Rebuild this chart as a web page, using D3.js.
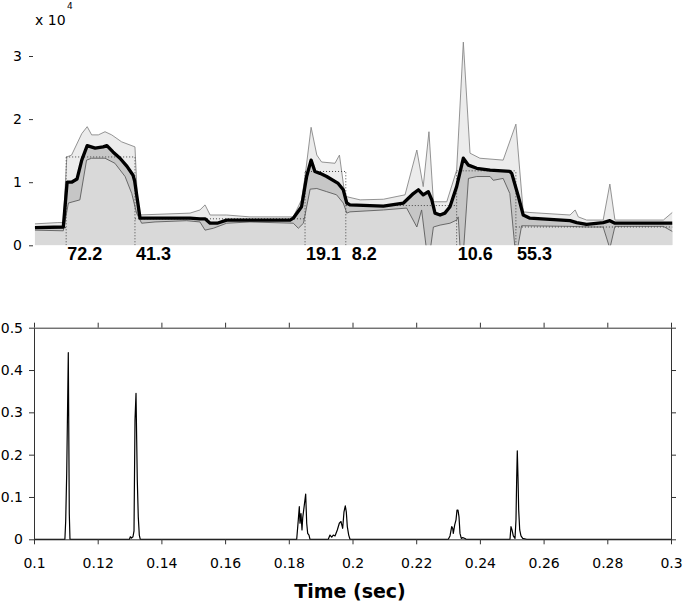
<!DOCTYPE html>
<html><head><meta charset="utf-8">
<script src="https://cdn.jsdelivr.net/npm/d3@7"></script>
<style>body{margin:0;background:#fff} svg{display:block}</style>
</head><body>
<svg id="c" width="683" height="605"></svg>
<script>
// ---- top panel data (values in units of 10^4) ----
const meanPts = [[0.1003,0.28],[0.1092,0.29],[0.1104,1.00],[0.1118,1.00],[0.1135,1.05],[0.1150,1.35],[0.1167,1.58],[0.1192,1.54],[0.1217,1.56],[0.1229,1.58],[0.1248,1.48],[0.1270,1.38],[0.1292,1.25],[0.1311,1.11],[0.1316,1.02],[0.1333,0.43],[0.1490,0.43],[0.1521,0.42],[0.1537,0.42],[0.1553,0.35],[0.1575,0.35],[0.1605,0.40],[0.1804,0.40],[0.1814,0.43],[0.1840,0.61],[0.1856,1.09],[0.1870,1.35],[0.1882,1.17],[0.1898,1.14],[0.1919,1.09],[0.1955,0.98],[0.1971,0.88],[0.1982,0.67],[0.1992,0.64],[0.2097,0.62],[0.2160,0.67],[0.2191,0.82],[0.2207,0.88],[0.2222,0.80],[0.2238,0.85],[0.2249,0.72],[0.2259,0.51],[0.2275,0.48],[0.2290,0.51],[0.2306,0.61],[0.2327,0.93],[0.2348,1.38],[0.2364,1.27],[0.2390,1.22],[0.2432,1.19],[0.2494,1.17],[0.2500,1.14],[0.2521,0.77],[0.2536,0.48],[0.2557,0.43],[0.2620,0.41],[0.2683,0.39],[0.2704,0.36],[0.2735,0.33],[0.2787,0.36],[0.2808,0.39],[0.2824,0.35],[0.2871,0.35],[0.3004,0.35]];
const upperPts = [[0.1003,0.34],[0.1075,0.36],[0.1092,0.36],[0.1103,1.40],[0.1118,1.43],[0.1150,1.77],[0.1167,1.88],[0.1181,1.75],[0.1202,1.75],[0.1223,1.80],[0.1244,1.75],[0.1275,1.64],[0.1317,1.56],[0.1327,0.48],[0.1490,0.51],[0.1521,0.56],[0.1537,0.64],[0.1553,0.48],[0.1605,0.48],[0.1678,0.45],[0.1814,0.45],[0.1840,0.72],[0.1851,1.09],[0.1870,1.87],[0.1888,1.43],[0.1903,1.32],[0.1945,1.30],[0.1959,1.43],[0.1976,0.80],[0.1982,0.77],[0.2024,0.72],[0.2097,0.73],[0.2165,0.80],[0.2202,1.51],[0.2222,0.93],[0.2240,1.80],[0.2254,0.69],[0.2296,0.69],[0.2327,1.19],[0.2348,3.22],[0.2369,1.46],[0.2400,1.38],[0.2473,1.35],[0.2513,1.92],[0.2536,0.53],[0.2557,0.52],[0.2683,0.48],[0.2699,0.56],[0.2709,0.45],[0.2735,0.40],[0.2787,0.40],[0.2808,0.97],[0.2824,0.40],[0.2976,0.40],[0.3004,0.52]];
const lowerPts = [[0.1003,0.24],[0.1092,0.23],[0.1108,0.67],[0.1144,0.72],[0.1165,1.35],[0.1181,1.38],[0.1223,1.38],[0.1254,1.30],[0.1286,1.09],[0.1307,0.82],[0.1322,0.51],[0.1338,0.35],[0.1380,0.37],[0.1479,0.39],[0.1521,0.37],[0.1537,0.24],[0.1563,0.27],[0.1605,0.35],[0.1678,0.37],[0.1814,0.35],[0.1830,0.27],[0.1846,0.35],[0.1867,0.89],[0.1888,0.90],[0.1919,0.85],[0.1950,0.80],[0.1971,0.67],[0.1982,0.51],[0.1992,0.53],[0.2097,0.56],[0.2170,0.59],[0.2202,0.29],[0.2217,0.56],[0.2238,-0.30],[0.2254,0.29],[0.2275,0.32],[0.2306,0.35],[0.2327,0.40],[0.2332,0.45],[0.2343,-0.50],[0.2364,1.06],[0.2390,1.09],[0.2432,1.09],[0.2442,1.03],[0.2473,1.06],[0.2494,0.82],[0.2513,-0.20],[0.2531,0.31],[0.2683,0.30],[0.2735,0.29],[0.2787,0.29],[0.2808,-0.05],[0.2824,0.30],[0.2976,0.30],[0.3004,0.22]];
const segBounds = [0.1101, 0.1317, 0.1851, 0.1979, 0.2327, 0.2513];
const segLevels = [0.28, 1.40, 0.42, 1.17, 0.63, 1.18, 0.29];
const segDurations = [72.2, 41.3, 19.1, 8.2, 10.6, 55.3];
const topYTicks = [0, 1, 2, 3];

// ---- bottom panel data ----
const spikePts = [
 [0.1,0],[0.1097,0],[0.10995,0.043],[0.11027,0.156],[0.11077,0.441],[0.11108,0.061],[0.1113,0],
 [0.12998,0],[0.13024,0.006],[0.13061,0.003],[0.13108,0.006],[0.1314,0.02],[0.13171,0.281],[0.13203,0.345],[0.13224,0.235],[0.13243,0.14],[0.13274,0.053],[0.13306,0.01],[0.13337,0],
 [0.18248,0],[0.18298,0.046],[0.1833,0.077],[0.18352,0.038],[0.18383,0.061],[0.18414,0.022],[0.18436,0.05],[0.18477,0.075],[0.1853,0.107],[0.18562,0.038],[0.18593,0.014],[0.18634,0.01],[0.18666,0],
 [0.1924,0],[0.19293,0.01],[0.19347,0.005],[0.19397,0.01],[0.19451,0.008],[0.19523,0.022],[0.19586,0.038],[0.19639,0.042],[0.19692,0.026],[0.19733,0.065],[0.19774,0.079],[0.19805,0.065],[0.19837,0.03],[0.19881,0.01],[0.19922,0],
 [0.23008,0],[0.23061,0.008],[0.23115,0.03],[0.23146,0.026],[0.23165,0.014],[0.23209,0.034],[0.2325,0.046],[0.23281,0.069],[0.23312,0.069],[0.23344,0.053],[0.23375,0.014],[0.23416,0.002],[0.2346,0.004],[0.23532,0.002],[0.23564,0],
 [0.24945,0],[0.24976,0.03],[0.25008,0.022],[0.25049,0.008],[0.25102,0.002],[0.25133,0.046],[0.25155,0.144],[0.25174,0.209],[0.25196,0.148],[0.25218,0.069],[0.2525,0.022],[0.2529,0.008],[0.25344,0.002],[0.25469,0],
 [0.3,0]];
const xTicks = [0.1,0.12,0.14,0.16,0.18,0.2,0.22,0.24,0.26,0.28,0.3];
const botYTicks = [0,0.1,0.2,0.3,0.4,0.5];

const svg = d3.select("#c");
const x = d3.scaleLinear().domain([0.1,0.3]).range([34,671]);
const yTop = d3.scaleLinear().domain([0,3.3]).range([245.3, 245.3-3.3*63.1]);
const yBot = d3.scaleLinear().domain([0,0.5]).range([539.3,327.7]);

svg.append("defs").append("clipPath").attr("id","clipTop").append("rect")
  .attr("x", x(0.1)).attr("y", yTop(3.3))
  .attr("width", x(0.3006)-x(0.1)).attr("height", yTop(0)-yTop(3.3));

const gTop = svg.append("g").attr("clip-path","url(#clipTop)");
const area = d3.area().x(d=>x(d[0])).y0(yTop(0)).y1(d=>yTop(d[1]));
const line = d3.line().x(d=>x(d[0])).y(d=>yTop(d[1]));

gTop.append("path").attr("d", area(upperPts)).attr("fill","#ececec");
gTop.append("path").attr("d", area(meanPts)).attr("fill","#c6c6c6");
gTop.append("path").attr("d", area(lowerPts)).attr("fill","#d9d9d9");
gTop.append("path").attr("d", line(upperPts)).attr("fill","none").attr("stroke","#888").attr("stroke-width",0.9);
gTop.append("path").attr("d", line(lowerPts)).attr("fill","none").attr("stroke","#5c5c5c").attr("stroke-width",0.9);

// dotted segment levels
const segEdges = [0.1003, ...segBounds, 0.3004];
segLevels.forEach((lv,i)=>{
  gTop.append("line").attr("x1",x(segEdges[i])).attr("x2",x(segEdges[i+1]))
    .attr("y1",yTop(lv)).attr("y2",yTop(lv))
    .attr("stroke","#444").attr("stroke-width",1).attr("stroke-dasharray","1,2");
});
segBounds.forEach((b,i)=>{
  const top = Math.max(segLevels[i], segLevels[i+1]);
  gTop.append("line").attr("x1",x(b)).attr("x2",x(b))
    .attr("y1",yTop(0)).attr("y2",yTop(top))
    .attr("stroke","#444").attr("stroke-width",1).attr("stroke-dasharray","1,2");
});
gTop.append("path").attr("d", line(meanPts)).attr("fill","none").attr("stroke","#000").attr("stroke-width",3.3).attr("stroke-linejoin","round");

// duration labels
const fmt = d3.format("4.1f");
svg.append("g").selectAll("text").data(segDurations).join("text")
  .attr("x",(d,i)=>x(segBounds[i])+1).attr("y",259.5)
  .attr("xml:space","preserve").style("white-space","pre")
  .attr("font-family","'Liberation Sans', Arial, sans-serif").attr("font-weight","bold").attr("font-size",18)
  .text(d=>fmt(d));

// top y axis
const axTop = svg.append("g").attr("transform","translate(33,0)")
  .call(d3.axisLeft(yTop).tickValues(topYTicks).tickSize(4).tickSizeOuter(0).tickPadding(7).tickFormat(d3.format("d")));
axTop.select(".domain").remove();
axTop.attr("font-family","'DejaVu Sans', sans-serif").attr("font-size",14);
axTop.selectAll("line").attr("stroke","#333");

svg.append("text").attr("x",35).attr("y",25).attr("font-family","'DejaVu Sans', sans-serif").attr("font-size",14).text("x 10");
svg.append("text").attr("x",67).attr("y",9).attr("font-family","'DejaVu Sans', sans-serif").attr("font-size",9).text("4");

// bottom panel
svg.append("path").attr("d", d3.line().x(d=>x(d[0])).y(d=>yBot(d[1]))(spikePts))
  .attr("fill","none").attr("stroke","#000").attr("stroke-width",1.2).attr("stroke-linejoin","round");

const tickFmt = d=>String(+d.toFixed(2));
function style(g){ g.attr("font-family","'DejaVu Sans', sans-serif").attr("font-size",14);
  g.selectAll("line,path").attr("stroke","#333"); }
svg.append("g").attr("transform",`translate(0,${yBot(0)})`)
  .call(d3.axisBottom(x).tickValues(xTicks).tickSize(5).tickSizeOuter(0).tickPadding(13.5).tickFormat(tickFmt)).call(style);
svg.append("g").attr("transform",`translate(0,${yBot(0.5)})`)
  .call(d3.axisTop(x).tickValues(xTicks).tickSize(5).tickSizeOuter(0).tickFormat("")).call(style);
svg.append("g").attr("transform",`translate(${x(0.1)},0)`)
  .call(d3.axisLeft(yBot).tickValues(botYTicks).tickSize(5).tickSizeOuter(0).tickPadding(6).tickFormat(tickFmt)).call(style);
svg.append("g").attr("transform",`translate(${x(0.3)},0)`)
  .call(d3.axisRight(yBot).tickValues(botYTicks).tickSize(5).tickSizeOuter(0).tickFormat("")).call(style);

svg.append("text").attr("x",350).attr("y",597.5).attr("text-anchor","middle")
  .attr("font-family","'DejaVu Sans', sans-serif").attr("font-weight","bold").attr("font-size",19)
  .text("Time (sec)");
</script>
</body></html>
